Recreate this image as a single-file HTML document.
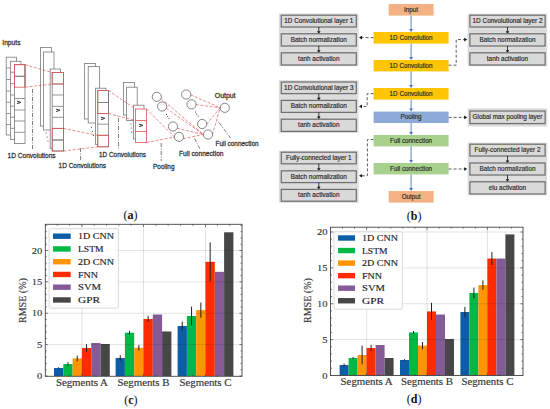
<!DOCTYPE html>
<html><head><meta charset="utf-8"><style>
html,body{margin:0;padding:0;background:#fff;}
body{width:550px;height:409px;overflow:hidden;}
svg{display:block;}
</style></head><body>
<svg width="550" height="409" viewBox="0 0 550 409">
<rect width="550" height="409" fill="#fff"/>
<rect x="6.2" y="57.2" width="10.30" height="77.80" fill="#fff" stroke="#7a7a7a" stroke-width="0.8"/>
<line x1="6.2" y1="68" x2="10.5" y2="68" stroke="#7a7a7a" stroke-width="0.8"/>
<line x1="6.2" y1="79.5" x2="10.5" y2="79.5" stroke="#7a7a7a" stroke-width="0.8"/>
<line x1="6.2" y1="91" x2="10.5" y2="91" stroke="#7a7a7a" stroke-width="0.8"/>
<line x1="6.2" y1="102.2" x2="10.5" y2="102.2" stroke="#7a7a7a" stroke-width="0.8"/>
<line x1="6.2" y1="113.5" x2="10.5" y2="113.5" stroke="#7a7a7a" stroke-width="0.8"/>
<line x1="6.2" y1="124.5" x2="10.5" y2="124.5" stroke="#7a7a7a" stroke-width="0.8"/>
<rect x="10.5" y="61.3" width="10.50" height="78.10" fill="#fff" stroke="#7a7a7a" stroke-width="0.8"/>
<line x1="10.5" y1="72.2" x2="14.5" y2="72.2" stroke="#7a7a7a" stroke-width="0.8"/>
<line x1="10.5" y1="83.7" x2="14.5" y2="83.7" stroke="#7a7a7a" stroke-width="0.8"/>
<line x1="10.5" y1="95" x2="14.5" y2="95" stroke="#7a7a7a" stroke-width="0.8"/>
<line x1="10.5" y1="106.2" x2="14.5" y2="106.2" stroke="#7a7a7a" stroke-width="0.8"/>
<line x1="10.5" y1="117.2" x2="14.5" y2="117.2" stroke="#7a7a7a" stroke-width="0.8"/>
<line x1="10.5" y1="128.3" x2="14.5" y2="128.3" stroke="#7a7a7a" stroke-width="0.8"/>
<rect x="14.5" y="64.7" width="10.50" height="78.90" fill="#fff" stroke="#7a7a7a" stroke-width="0.8"/>
<line x1="14.5" y1="76.3" x2="25" y2="76.3" stroke="#7a7a7a" stroke-width="0.8"/>
<line x1="14.5" y1="98.5" x2="25" y2="98.5" stroke="#7a7a7a" stroke-width="0.8"/>
<line x1="14.5" y1="110" x2="25" y2="110" stroke="#7a7a7a" stroke-width="0.8"/>
<line x1="14.5" y1="121" x2="25" y2="121" stroke="#7a7a7a" stroke-width="0.8"/>
<line x1="14.5" y1="132.3" x2="25" y2="132.3" stroke="#7a7a7a" stroke-width="0.8"/>
<rect x="14.5" y="64.7" width="10.50" height="22.50" fill="none" stroke="#dc5555" stroke-width="0.8"/>
<line x1="14.5" y1="76.3" x2="25" y2="76.3" stroke="#7a7a7a" stroke-width="0.8"/>
<line x1="25" y1="65" x2="25" y2="87" stroke="#7a7a7a" stroke-width="0.8"/>
<rect x="40.5" y="47.5" width="11.00" height="78.50" fill="#fff" stroke="#7a7a7a" stroke-width="0.8"/>
<rect x="43.5" y="52" width="10.50" height="78.00" fill="#fff" stroke="#7a7a7a" stroke-width="0.8"/>
<rect x="50.2" y="69" width="10.30" height="79.50" fill="#fff" stroke="#7a7a7a" stroke-width="0.8"/>
<rect x="52.2" y="72.5" width="11.30" height="78.50" fill="#fff" stroke="#7a7a7a" stroke-width="0.8"/>
<line x1="52.2" y1="84" x2="63.5" y2="84" stroke="#7a7a7a" stroke-width="0.8"/>
<line x1="52.2" y1="95" x2="63.5" y2="95" stroke="#7a7a7a" stroke-width="0.8"/>
<line x1="52.2" y1="106.3" x2="63.5" y2="106.3" stroke="#7a7a7a" stroke-width="0.8"/>
<line x1="52.2" y1="117.3" x2="63.5" y2="117.3" stroke="#7a7a7a" stroke-width="0.8"/>
<line x1="52.2" y1="128.4" x2="63.5" y2="128.4" stroke="#7a7a7a" stroke-width="0.8"/>
<line x1="52.2" y1="140" x2="63.5" y2="140" stroke="#7a7a7a" stroke-width="0.8"/>
<rect x="52.2" y="72.5" width="11.30" height="11.50" fill="none" stroke="#dc5555" stroke-width="0.8"/>
<rect x="52.2" y="128.4" width="11.30" height="22.60" fill="none" stroke="#dc5555" stroke-width="0.8"/>
<line x1="52.2" y1="140" x2="63.5" y2="140" stroke="#7a7a7a" stroke-width="0.8"/>
<rect x="84.5" y="63.5" width="11.00" height="55.50" fill="#fff" stroke="#7a7a7a" stroke-width="0.8"/>
<rect x="88.2" y="66.5" width="11.30" height="56.50" fill="#fff" stroke="#7a7a7a" stroke-width="0.8"/>
<rect x="95.5" y="88.2" width="10.50" height="56.30" fill="#fff" stroke="#7a7a7a" stroke-width="0.8"/>
<rect x="97.8" y="90.5" width="10.70" height="56.30" fill="#fff" stroke="#7a7a7a" stroke-width="0.8"/>
<line x1="97.8" y1="102.5" x2="108.5" y2="102.5" stroke="#7a7a7a" stroke-width="0.8"/>
<line x1="97.8" y1="113.5" x2="108.5" y2="113.5" stroke="#7a7a7a" stroke-width="0.8"/>
<line x1="97.8" y1="124.2" x2="108.5" y2="124.2" stroke="#7a7a7a" stroke-width="0.8"/>
<line x1="97.8" y1="135.3" x2="108.5" y2="135.3" stroke="#7a7a7a" stroke-width="0.8"/>
<rect x="97.8" y="90.5" width="10.70" height="23.00" fill="none" stroke="#dc5555" stroke-width="0.8"/>
<line x1="97.8" y1="102.5" x2="108.5" y2="102.5" stroke="#7a7a7a" stroke-width="0.8"/>
<rect x="97.8" y="135.3" width="10.70" height="11.50" fill="none" stroke="#dc5555" stroke-width="0.8"/>
<line x1="108.5" y1="90.8" x2="108.5" y2="113.2" stroke="#7a7a7a" stroke-width="0.8"/>
<rect x="123.5" y="82.5" width="11.00" height="32.50" fill="#fff" stroke="#7a7a7a" stroke-width="0.8"/>
<rect x="126.5" y="87.2" width="10.70" height="33.30" fill="#fff" stroke="#7a7a7a" stroke-width="0.8"/>
<rect x="133.5" y="105.2" width="10.50" height="33.80" fill="#fff" stroke="#7a7a7a" stroke-width="0.8"/>
<rect x="135.5" y="109" width="11.00" height="33.50" fill="#fff" stroke="#dc5555" stroke-width="0.8"/>
<line x1="135.5" y1="120.5" x2="146.5" y2="120.5" stroke="#dc5555" stroke-width="0.8"/>
<line x1="135.5" y1="131.5" x2="146.5" y2="131.5" stroke="#dc5555" stroke-width="0.8"/>
<path d="M17,101.2 L20.9,102.4 L17,103.60000000000001" fill="none" stroke="#333" stroke-width="1" stroke-linejoin="round"/>
<path d="M56.1,109.1 L60.0,110.3 L56.1,111.5" fill="none" stroke="#333" stroke-width="1" stroke-linejoin="round"/>
<path d="M101,117.2 L104.9,118.4 L101,119.60000000000001" fill="none" stroke="#333" stroke-width="1" stroke-linejoin="round"/>
<path d="M139.1,124.2 L143.0,125.4 L139.1,126.60000000000001" fill="none" stroke="#333" stroke-width="1" stroke-linejoin="round"/>
<circle cx="46" cy="133" r="0.6" fill="#333"/>
<circle cx="47" cy="137" r="0.6" fill="#333"/>
<circle cx="48" cy="141" r="0.6" fill="#333"/>
<circle cx="91.5" cy="127.5" r="0.6" fill="#333"/>
<circle cx="92.5" cy="131.5" r="0.6" fill="#333"/>
<circle cx="93.5" cy="135.5" r="0.6" fill="#333"/>
<circle cx="131" cy="124" r="0.6" fill="#333"/>
<circle cx="131.3" cy="128" r="0.6" fill="#333"/>
<circle cx="131.6" cy="132" r="0.6" fill="#333"/>
<line x1="25" y1="64.7" x2="52.2" y2="72.5" stroke="#dd4040" stroke-width="0.75" stroke-dasharray="3,1.6" fill="none" opacity="0.8"/>
<line x1="25" y1="87.2" x2="52.2" y2="84" stroke="#dd4040" stroke-width="0.75" stroke-dasharray="3,1.6" fill="none" opacity="0.8"/>
<line x1="63.5" y1="128.4" x2="97.8" y2="135.3" stroke="#dd4040" stroke-width="0.75" stroke-dasharray="3,1.6" fill="none" opacity="0.8"/>
<line x1="63.5" y1="151" x2="97.8" y2="146.8" stroke="#dd4040" stroke-width="0.75" stroke-dasharray="3,1.6" fill="none" opacity="0.8"/>
<line x1="108.5" y1="90.5" x2="135.5" y2="109" stroke="#dd4040" stroke-width="0.75" stroke-dasharray="3,1.6" fill="none" opacity="0.8"/>
<line x1="108.5" y1="113.5" x2="135.5" y2="120.5" stroke="#dd4040" stroke-width="0.75" stroke-dasharray="3,1.6" fill="none" opacity="0.8"/>
<line x1="146.5" y1="109" x2="174.5" y2="137" stroke="#dd4040" stroke-width="0.75" stroke-dasharray="3,1.6" fill="none" opacity="0.8"/>
<line x1="146.5" y1="142.5" x2="174.5" y2="137" stroke="#dd4040" stroke-width="0.75" stroke-dasharray="3,1.6" fill="none" opacity="0.8"/>
<line x1="160.94" y1="98.64" x2="203.4" y2="134.5" stroke="#dd4040" stroke-width="0.75" stroke-dasharray="3,1.6" fill="none" opacity="0.8"/>
<line x1="166.33999999999997" y1="108.34" x2="203.4" y2="134.5" stroke="#dd4040" stroke-width="0.75" stroke-dasharray="3,1.6" fill="none" opacity="0.8"/>
<line x1="177.14" y1="128.34" x2="203.4" y2="134.5" stroke="#dd4040" stroke-width="0.75" stroke-dasharray="3,1.6" fill="none" opacity="0.8"/>
<line x1="183.14" y1="138.64000000000001" x2="203.4" y2="134.5" stroke="#dd4040" stroke-width="0.75" stroke-dasharray="3,1.6" fill="none" opacity="0.8"/>
<line x1="190.57" y1="94.8" x2="220.20000000000002" y2="107.8" stroke="#dd4040" stroke-width="0.75" stroke-dasharray="3,1.6" fill="none" opacity="0.8"/>
<line x1="195.87" y1="104.6" x2="220.20000000000002" y2="107.8" stroke="#dd4040" stroke-width="0.75" stroke-dasharray="3,1.6" fill="none" opacity="0.8"/>
<line x1="206.57" y1="124.3" x2="220.20000000000002" y2="107.8" stroke="#dd4040" stroke-width="0.75" stroke-dasharray="3,1.6" fill="none" opacity="0.8"/>
<line x1="212.37" y1="134.8" x2="220.20000000000002" y2="107.8" stroke="#dd4040" stroke-width="0.75" stroke-dasharray="3,1.6" fill="none" opacity="0.8"/>
<circle cx="156.8" cy="96.8" r="4.6" fill="none" stroke="#666" stroke-width="0.8"/>
<circle cx="162.2" cy="106.5" r="4.6" fill="none" stroke="#666" stroke-width="0.8"/>
<circle cx="173" cy="126.5" r="4.6" fill="none" stroke="#666" stroke-width="0.8"/>
<circle cx="179" cy="136.8" r="4.6" fill="none" stroke="#666" stroke-width="0.8"/>
<circle cx="186.2" cy="94.5" r="4.6" fill="none" stroke="#666" stroke-width="0.8"/>
<circle cx="191.5" cy="104.3" r="4.6" fill="none" stroke="#666" stroke-width="0.8"/>
<circle cx="202.2" cy="124" r="4.6" fill="none" stroke="#666" stroke-width="0.8"/>
<circle cx="208" cy="134.5" r="4.6" fill="none" stroke="#666" stroke-width="0.8"/>
<circle cx="224.8" cy="107.8" r="4.6" fill="none" stroke="#666" stroke-width="0.8"/>
<circle cx="166.5" cy="114.5" r="0.55" fill="#333"/>
<circle cx="167.7" cy="116.5" r="0.55" fill="#333"/>
<circle cx="169" cy="118.5" r="0.55" fill="#333"/>
<circle cx="195.5" cy="112" r="0.55" fill="#333"/>
<circle cx="196.8" cy="114" r="0.55" fill="#333"/>
<circle cx="198.2" cy="116" r="0.55" fill="#333"/>
<line x1="32.5" y1="89" x2="32.5" y2="150" stroke="#444" stroke-width="0.7" stroke-dasharray="4,1.5,1,1.5" fill="none"/>
<line x1="80.6" y1="148" x2="80.6" y2="161" stroke="#444" stroke-width="0.7" stroke-dasharray="4,1.5,1,1.5" fill="none"/>
<line x1="118.5" y1="118" x2="118.5" y2="150" stroke="#444" stroke-width="0.7" stroke-dasharray="4,1.5,1,1.5" fill="none"/>
<line x1="161.2" y1="143" x2="161.2" y2="161" stroke="#444" stroke-width="0.7" stroke-dasharray="4,1.5,1,1.5" fill="none"/>
<line x1="194.5" y1="138.5" x2="199.7" y2="148.6" stroke="#444" stroke-width="0.7" stroke-dasharray="4,1.5,1,1.5" fill="none"/>
<line x1="219" y1="122.5" x2="230.5" y2="138" stroke="#444" stroke-width="0.7" stroke-dasharray="4,1.5,1,1.5" fill="none"/>
<text x="2.3" y="45.3" font-family='"Liberation Sans", sans-serif' font-size="6.9" text-anchor="start" fill="#333" font-weight="normal" textLength="18.2" lengthAdjust="spacingAndGlyphs" stroke="#333" stroke-width="0.26">Inputs</text>
<text x="7.6" y="157.6" font-family='"Liberation Sans", sans-serif' font-size="6.9" text-anchor="start" fill="#333" font-weight="normal" textLength="48" lengthAdjust="spacingAndGlyphs" stroke="#333" stroke-width="0.26">1D Convolutions</text>
<text x="58.6" y="168.2" font-family='"Liberation Sans", sans-serif' font-size="6.9" text-anchor="start" fill="#333" font-weight="normal" textLength="47.4" lengthAdjust="spacingAndGlyphs" stroke="#333" stroke-width="0.26">1D Convolutions</text>
<text x="99" y="157.2" font-family='"Liberation Sans", sans-serif' font-size="6.9" text-anchor="start" fill="#333" font-weight="normal" textLength="47" lengthAdjust="spacingAndGlyphs" stroke="#333" stroke-width="0.26">1D Convolutions</text>
<text x="153" y="169" font-family='"Liberation Sans", sans-serif' font-size="6.9" text-anchor="start" fill="#333" font-weight="normal" textLength="21.5" lengthAdjust="spacingAndGlyphs" stroke="#333" stroke-width="0.26">Pooling</text>
<text x="179" y="156" font-family='"Liberation Sans", sans-serif' font-size="6.9" text-anchor="start" fill="#333" font-weight="normal" textLength="44.5" lengthAdjust="spacingAndGlyphs" stroke="#333" stroke-width="0.26">Full connection</text>
<text x="215.5" y="145.7" font-family='"Liberation Sans", sans-serif' font-size="6.9" text-anchor="start" fill="#333" font-weight="normal" textLength="43" lengthAdjust="spacingAndGlyphs" stroke="#333" stroke-width="0.26">Full connection</text>
<text x="214.8" y="97.8" font-family='"Liberation Sans", sans-serif' font-size="6.9" text-anchor="start" fill="#333" font-weight="normal" textLength="20.7" lengthAdjust="spacingAndGlyphs" stroke="#333" stroke-width="0.26">Output</text>
<rect x="278.8" y="13.5" width="79.8" height="52.7" fill="#dddddd"/>
<rect x="281.3" y="15.2" width="75.0" height="11.8" fill="#d9d9d9" stroke="#707070" stroke-width="1.25"/>
<text x="318.8" y="23.0" font-family='"Liberation Sans", sans-serif' font-size="6.7" text-anchor="middle" fill="#2a2a2a" font-weight="normal" textLength="69" lengthAdjust="spacingAndGlyphs" stroke="#2a2a2a" stroke-width="0.18">1D Convolutional layer 1</text>
<line x1="318.8" y1="27" x2="318.8" y2="31.599999999999998" stroke="#111" stroke-width="0.8"/>
<path d="M317.0,31.199999999999996 L320.6,31.199999999999996 L318.8,33.8 Z" fill="#111"/>
<rect x="281.3" y="33.8" width="75.0" height="12.2" fill="#d9d9d9" stroke="#707070" stroke-width="1.25"/>
<text x="318.8" y="41.8" font-family='"Liberation Sans", sans-serif' font-size="6.7" text-anchor="middle" fill="#2a2a2a" font-weight="normal" textLength="56" lengthAdjust="spacingAndGlyphs" stroke="#2a2a2a" stroke-width="0.18">Batch normalization</text>
<line x1="318.8" y1="46" x2="318.8" y2="50.599999999999994" stroke="#111" stroke-width="0.8"/>
<path d="M317.0,50.199999999999996 L320.6,50.199999999999996 L318.8,52.8 Z" fill="#111"/>
<rect x="281.3" y="52.8" width="75.0" height="12.2" fill="#d9d9d9" stroke="#707070" stroke-width="1.25"/>
<text x="318.8" y="60.8" font-family='"Liberation Sans", sans-serif' font-size="6.7" text-anchor="middle" fill="#2a2a2a" font-weight="normal" textLength="41.4" lengthAdjust="spacingAndGlyphs" stroke="#2a2a2a" stroke-width="0.18">tanh activation</text>
<rect x="278.8" y="80.2" width="79.8" height="52.8" fill="#dddddd"/>
<rect x="281.3" y="82" width="75.0" height="11.6" fill="#d9d9d9" stroke="#707070" stroke-width="1.25"/>
<text x="318.8" y="89.7" font-family='"Liberation Sans", sans-serif' font-size="6.7" text-anchor="middle" fill="#2a2a2a" font-weight="normal" textLength="69.4" lengthAdjust="spacingAndGlyphs" stroke="#2a2a2a" stroke-width="0.18">1D Convolutional layer 3</text>
<line x1="318.8" y1="93.6" x2="318.8" y2="98.2" stroke="#111" stroke-width="0.8"/>
<path d="M317.0,97.80000000000001 L320.6,97.80000000000001 L318.8,100.4 Z" fill="#111"/>
<rect x="281.3" y="100.4" width="75.0" height="12.0" fill="#d9d9d9" stroke="#707070" stroke-width="1.25"/>
<text x="318.8" y="108.30000000000001" font-family='"Liberation Sans", sans-serif' font-size="6.7" text-anchor="middle" fill="#2a2a2a" font-weight="normal" textLength="56" lengthAdjust="spacingAndGlyphs" stroke="#2a2a2a" stroke-width="0.18">Batch normalization</text>
<line x1="318.8" y1="112.4" x2="318.8" y2="117.0" stroke="#111" stroke-width="0.8"/>
<path d="M317.0,116.60000000000001 L320.6,116.60000000000001 L318.8,119.2 Z" fill="#111"/>
<rect x="281.3" y="119.2" width="75.0" height="12.2" fill="#d9d9d9" stroke="#707070" stroke-width="1.25"/>
<text x="318.8" y="127.20000000000002" font-family='"Liberation Sans", sans-serif' font-size="6.7" text-anchor="middle" fill="#2a2a2a" font-weight="normal" textLength="41.4" lengthAdjust="spacingAndGlyphs" stroke="#2a2a2a" stroke-width="0.18">tanh activation</text>
<rect x="278.8" y="150.6" width="79.8" height="52.2" fill="#dddddd"/>
<rect x="281.3" y="152.2" width="75.0" height="11.6" fill="#d9d9d9" stroke="#707070" stroke-width="1.25"/>
<text x="318.8" y="159.9" font-family='"Liberation Sans", sans-serif' font-size="6.7" text-anchor="middle" fill="#2a2a2a" font-weight="normal" textLength="65.6" lengthAdjust="spacingAndGlyphs" stroke="#2a2a2a" stroke-width="0.18">Fully-connected layer 1</text>
<line x1="318.8" y1="163.8" x2="318.8" y2="168.60000000000002" stroke="#111" stroke-width="0.8"/>
<path d="M317.0,168.20000000000002 L320.6,168.20000000000002 L318.8,170.8 Z" fill="#111"/>
<rect x="281.3" y="170.8" width="75.0" height="11.8" fill="#d9d9d9" stroke="#707070" stroke-width="1.25"/>
<text x="318.8" y="178.6" font-family='"Liberation Sans", sans-serif' font-size="6.7" text-anchor="middle" fill="#2a2a2a" font-weight="normal" textLength="56" lengthAdjust="spacingAndGlyphs" stroke="#2a2a2a" stroke-width="0.18">Batch normalization</text>
<line x1="318.8" y1="182.6" x2="318.8" y2="187.20000000000002" stroke="#111" stroke-width="0.8"/>
<path d="M317.0,186.8 L320.6,186.8 L318.8,189.4 Z" fill="#111"/>
<rect x="281.3" y="189.4" width="75.0" height="11.8" fill="#d9d9d9" stroke="#707070" stroke-width="1.25"/>
<text x="318.8" y="197.20000000000002" font-family='"Liberation Sans", sans-serif' font-size="6.7" text-anchor="middle" fill="#2a2a2a" font-weight="normal" textLength="41.4" lengthAdjust="spacingAndGlyphs" stroke="#2a2a2a" stroke-width="0.18">tanh activation</text>
<rect x="467.6" y="13.6" width="79.6" height="52.6" fill="#dddddd"/>
<rect x="469.90000000000003" y="15.2" width="75.2" height="11.8" fill="#d9d9d9" stroke="#707070" stroke-width="1.25"/>
<text x="507.5" y="23.0" font-family='"Liberation Sans", sans-serif' font-size="6.7" text-anchor="middle" fill="#2a2a2a" font-weight="normal" textLength="70" lengthAdjust="spacingAndGlyphs" stroke="#2a2a2a" stroke-width="0.18">1D Convolutional layer 2</text>
<line x1="507.5" y1="27" x2="507.5" y2="31.599999999999998" stroke="#111" stroke-width="0.8"/>
<path d="M505.7,31.199999999999996 L509.3,31.199999999999996 L507.5,33.8 Z" fill="#111"/>
<rect x="469.90000000000003" y="33.8" width="75.2" height="12.2" fill="#d9d9d9" stroke="#707070" stroke-width="1.25"/>
<text x="507.5" y="41.8" font-family='"Liberation Sans", sans-serif' font-size="6.7" text-anchor="middle" fill="#2a2a2a" font-weight="normal" textLength="56" lengthAdjust="spacingAndGlyphs" stroke="#2a2a2a" stroke-width="0.18">Batch normalization</text>
<line x1="507.5" y1="46" x2="507.5" y2="50.599999999999994" stroke="#111" stroke-width="0.8"/>
<path d="M505.7,50.199999999999996 L509.3,50.199999999999996 L507.5,52.8 Z" fill="#111"/>
<rect x="469.90000000000003" y="52.8" width="75.2" height="12.2" fill="#d9d9d9" stroke="#707070" stroke-width="1.25"/>
<text x="507.5" y="60.8" font-family='"Liberation Sans", sans-serif' font-size="6.7" text-anchor="middle" fill="#2a2a2a" font-weight="normal" textLength="41.4" lengthAdjust="spacingAndGlyphs" stroke="#2a2a2a" stroke-width="0.18">tanh activation</text>
<rect x="467.6" y="108.2" width="79.6" height="18.4" fill="#dddddd"/>
<rect x="469.90000000000003" y="111" width="75.2" height="12.6" fill="#d9d9d9" stroke="#707070" stroke-width="1.25"/>
<text x="507.5" y="119.2" font-family='"Liberation Sans", sans-serif' font-size="6.7" text-anchor="middle" fill="#2a2a2a" font-weight="normal" textLength="69.8" lengthAdjust="spacingAndGlyphs" stroke="#2a2a2a" stroke-width="0.18">Global max pooling layer</text>
<rect x="467.6" y="142.6" width="79.6" height="52.6" fill="#dddddd"/>
<rect x="469.90000000000003" y="144.2" width="75.2" height="11.8" fill="#d9d9d9" stroke="#707070" stroke-width="1.25"/>
<text x="507.5" y="152.0" font-family='"Liberation Sans", sans-serif' font-size="6.7" text-anchor="middle" fill="#2a2a2a" font-weight="normal" textLength="66" lengthAdjust="spacingAndGlyphs" stroke="#2a2a2a" stroke-width="0.18">Fully-connected layer 2</text>
<line x1="507.5" y1="156" x2="507.5" y2="160.8" stroke="#111" stroke-width="0.8"/>
<path d="M505.7,160.4 L509.3,160.4 L507.5,163 Z" fill="#111"/>
<rect x="469.90000000000003" y="163" width="75.2" height="12.0" fill="#d9d9d9" stroke="#707070" stroke-width="1.25"/>
<text x="507.5" y="170.9" font-family='"Liberation Sans", sans-serif' font-size="6.7" text-anchor="middle" fill="#2a2a2a" font-weight="normal" textLength="56" lengthAdjust="spacingAndGlyphs" stroke="#2a2a2a" stroke-width="0.18">Batch normalization</text>
<line x1="507.5" y1="175" x2="507.5" y2="179.60000000000002" stroke="#111" stroke-width="0.8"/>
<path d="M505.7,179.20000000000002 L509.3,179.20000000000002 L507.5,181.8 Z" fill="#111"/>
<rect x="469.90000000000003" y="181.8" width="75.2" height="12.2" fill="#d9d9d9" stroke="#707070" stroke-width="1.25"/>
<text x="507.5" y="189.8" font-family='"Liberation Sans", sans-serif' font-size="6.7" text-anchor="middle" fill="#2a2a2a" font-weight="normal" textLength="37.4" lengthAdjust="spacingAndGlyphs" stroke="#2a2a2a" stroke-width="0.18">elu activation</text>
<rect x="388.6" y="4" width="45.0" height="11.6" fill="#f4b183"/>
<text x="411.1" y="11.700000000000001" font-family='"Liberation Sans", sans-serif' font-size="6.7" text-anchor="middle" fill="#2a2a2a" font-weight="normal" textLength="14" lengthAdjust="spacingAndGlyphs" stroke="#2a2a2a" stroke-width="0.18">Input</text>
<line x1="411.1" y1="15.6" x2="411.1" y2="29.5" stroke="#4a78c0" stroke-width="0.9"/>
<path d="M409.1,29 L413.1,29 L411.1,32 Z" fill="#4a78c0"/>
<rect x="373.6" y="32" width="75.0" height="11.6" fill="#ffc505"/>
<text x="411.1" y="39.699999999999996" font-family='"Liberation Sans", sans-serif' font-size="6.7" text-anchor="middle" fill="#2a2a2a" font-weight="normal" textLength="43" lengthAdjust="spacingAndGlyphs" stroke="#2a2a2a" stroke-width="0.18">1D Convolution</text>
<line x1="411.1" y1="43.6" x2="411.1" y2="57.5" stroke="#4a78c0" stroke-width="0.9"/>
<path d="M409.1,57 L413.1,57 L411.1,60 Z" fill="#4a78c0"/>
<rect x="373.6" y="60" width="75.0" height="11.4" fill="#ffc505"/>
<text x="411.1" y="67.60000000000001" font-family='"Liberation Sans", sans-serif' font-size="6.7" text-anchor="middle" fill="#2a2a2a" font-weight="normal" textLength="43" lengthAdjust="spacingAndGlyphs" stroke="#2a2a2a" stroke-width="0.18">1D Convolution</text>
<line x1="411.1" y1="71.4" x2="411.1" y2="85.5" stroke="#4a78c0" stroke-width="0.9"/>
<path d="M409.1,85 L413.1,85 L411.1,88 Z" fill="#4a78c0"/>
<rect x="373.6" y="88" width="75.0" height="11.6" fill="#ffc505"/>
<text x="411.1" y="95.7" font-family='"Liberation Sans", sans-serif' font-size="6.7" text-anchor="middle" fill="#2a2a2a" font-weight="normal" textLength="43" lengthAdjust="spacingAndGlyphs" stroke="#2a2a2a" stroke-width="0.18">1D Convolution</text>
<line x1="411.1" y1="99.6" x2="411.1" y2="109.1" stroke="#4a78c0" stroke-width="0.9"/>
<path d="M409.1,108.6 L413.1,108.6 L411.1,111.6 Z" fill="#4a78c0"/>
<rect x="373.6" y="111.6" width="75.0" height="11.4" fill="#8eaadb"/>
<text x="411.1" y="119.2" font-family='"Liberation Sans", sans-serif' font-size="6.7" text-anchor="middle" fill="#2a2a2a" font-weight="normal" textLength="21" lengthAdjust="spacingAndGlyphs" stroke="#2a2a2a" stroke-width="0.18">Pooling</text>
<line x1="411.1" y1="123" x2="411.1" y2="132.5" stroke="#4a78c0" stroke-width="0.9"/>
<path d="M409.1,132 L413.1,132 L411.1,135 Z" fill="#4a78c0"/>
<rect x="373.6" y="135" width="75.0" height="11.4" fill="#a9d18e"/>
<text x="411.1" y="142.6" font-family='"Liberation Sans", sans-serif' font-size="6.7" text-anchor="middle" fill="#2a2a2a" font-weight="normal" textLength="42" lengthAdjust="spacingAndGlyphs" stroke="#2a2a2a" stroke-width="0.18">Full connection</text>
<line x1="411.1" y1="146.4" x2="411.1" y2="160.5" stroke="#4a78c0" stroke-width="0.9"/>
<path d="M409.1,160 L413.1,160 L411.1,163 Z" fill="#4a78c0"/>
<rect x="373.6" y="163" width="75.0" height="11.4" fill="#a9d18e"/>
<text x="411.1" y="170.6" font-family='"Liberation Sans", sans-serif' font-size="6.7" text-anchor="middle" fill="#2a2a2a" font-weight="normal" textLength="42" lengthAdjust="spacingAndGlyphs" stroke="#2a2a2a" stroke-width="0.18">Full connection</text>
<line x1="411.1" y1="174.4" x2="411.1" y2="188.5" stroke="#4a78c0" stroke-width="0.9"/>
<path d="M409.1,188 L413.1,188 L411.1,191 Z" fill="#4a78c0"/>
<rect x="388.6" y="191" width="45.0" height="11.6" fill="#f4b183"/>
<text x="411.1" y="198.70000000000002" font-family='"Liberation Sans", sans-serif' font-size="6.7" text-anchor="middle" fill="#2a2a2a" font-weight="normal" textLength="18.8" lengthAdjust="spacingAndGlyphs" stroke="#2a2a2a" stroke-width="0.18">Output</text>
<path d="M373.6,37.6 L361.6,37.6" stroke="#4a4a4a" stroke-width="0.9" fill="none" stroke-dasharray="3,2"/>
<path d="M359.0,37.6 L362.0,35.800000000000004 L362.0,39.4 Z" fill="#111"/>
<path d="M448.6,65.2 L456.2,65.2 L456.2,39.6 L464.6,39.6" stroke="#4a4a4a" stroke-width="0.9" fill="none" stroke-dasharray="3,2"/>
<path d="M467.20000000000005,39.6 L464.20000000000005,37.800000000000004 L464.20000000000005,41.4 Z" fill="#111"/>
<path d="M373.6,93.6 L367.2,93.6 L367.2,106.4 L361.6,106.4" stroke="#4a4a4a" stroke-width="0.9" fill="none" stroke-dasharray="3,2"/>
<path d="M359.0,106.4 L362.0,104.60000000000001 L362.0,108.2 Z" fill="#111"/>
<path d="M448.6,117.4 L464.6,117.4" stroke="#4a4a4a" stroke-width="0.9" fill="none" stroke-dasharray="3,2"/>
<path d="M467.20000000000005,117.4 L464.20000000000005,115.60000000000001 L464.20000000000005,119.2 Z" fill="#111"/>
<path d="M373.6,139.6 L367.4,139.6 L367.4,175.8 L361.6,175.8" stroke="#4a4a4a" stroke-width="0.9" fill="none" stroke-dasharray="3,2"/>
<path d="M359.0,175.8 L362.0,174.0 L362.0,177.60000000000002 Z" fill="#111"/>
<path d="M448.6,169 L464.6,169" stroke="#4a4a4a" stroke-width="0.9" fill="none" stroke-dasharray="3,2"/>
<path d="M467.20000000000005,169 L464.20000000000005,167.2 L464.20000000000005,170.8 Z" fill="#111"/>
<rect x="54.00" y="368.03" width="9.30" height="7.97" fill="#0C5DA5"/>
<rect x="63.30" y="364.08" width="9.30" height="11.92" fill="#00B945"/>
<rect x="72.60" y="358.43" width="9.30" height="17.57" fill="#FF9500"/>
<rect x="81.90" y="348.01" width="9.30" height="27.99" fill="#FF2C00"/>
<rect x="91.20" y="342.99" width="9.30" height="33.01" fill="#845B97"/>
<rect x="100.50" y="344.00" width="9.30" height="32.00" fill="#474747"/>
<rect x="115.60" y="357.99" width="9.30" height="18.01" fill="#0C5DA5"/>
<rect x="124.90" y="332.70" width="9.30" height="43.30" fill="#00B945"/>
<rect x="134.20" y="347.76" width="9.30" height="28.24" fill="#FF9500"/>
<rect x="143.50" y="318.90" width="9.30" height="57.10" fill="#FF2C00"/>
<rect x="152.80" y="314.50" width="9.30" height="61.50" fill="#845B97"/>
<rect x="162.10" y="331.45" width="9.30" height="44.55" fill="#474747"/>
<rect x="177.60" y="325.99" width="9.30" height="50.01" fill="#0C5DA5"/>
<rect x="186.90" y="316.01" width="9.30" height="59.99" fill="#00B945"/>
<rect x="196.20" y="310.11" width="9.30" height="65.89" fill="#FF9500"/>
<rect x="205.50" y="261.80" width="9.30" height="114.20" fill="#FF2C00"/>
<rect x="214.80" y="271.83" width="9.30" height="104.17" fill="#845B97"/>
<rect x="224.10" y="232.30" width="9.30" height="143.70" fill="#474747"/>
<line x1="58.65" y1="367.28" x2="58.65" y2="368.78" stroke="#222" stroke-width="1"/>
<line x1="67.95" y1="362.19" x2="67.95" y2="365.96" stroke="#222" stroke-width="1"/>
<line x1="77.25" y1="355.61" x2="77.25" y2="361.25" stroke="#222" stroke-width="1"/>
<line x1="86.55" y1="344.25" x2="86.55" y2="351.78" stroke="#222" stroke-width="1"/>
<line x1="120.25" y1="355.17" x2="120.25" y2="360.81" stroke="#222" stroke-width="1"/>
<line x1="129.55" y1="330.82" x2="129.55" y2="334.58" stroke="#222" stroke-width="1"/>
<line x1="138.85" y1="344.94" x2="138.85" y2="350.59" stroke="#222" stroke-width="1"/>
<line x1="148.15" y1="315.76" x2="148.15" y2="322.03" stroke="#222" stroke-width="1"/>
<line x1="182.25" y1="321.60" x2="182.25" y2="330.38" stroke="#222" stroke-width="1"/>
<line x1="191.55" y1="306.60" x2="191.55" y2="325.42" stroke="#222" stroke-width="1"/>
<line x1="200.85" y1="302.58" x2="200.85" y2="317.64" stroke="#222" stroke-width="1"/>
<line x1="210.15" y1="242.34" x2="210.15" y2="281.25" stroke="#222" stroke-width="1"/>
<line x1="45.3" y1="344.62" x2="242" y2="344.62" stroke="#000" stroke-opacity="0.16" stroke-width="0.7"/>
<line x1="45.3" y1="313.25" x2="242" y2="313.25" stroke="#000" stroke-opacity="0.16" stroke-width="0.7"/>
<line x1="45.3" y1="281.88" x2="242" y2="281.88" stroke="#000" stroke-opacity="0.16" stroke-width="0.7"/>
<line x1="45.3" y1="250.50" x2="242" y2="250.50" stroke="#000" stroke-opacity="0.16" stroke-width="0.7"/>
<line x1="81.9" y1="224.3" x2="81.9" y2="376.3" stroke="#000" stroke-opacity="0.16" stroke-width="0.7"/>
<line x1="143.5" y1="224.3" x2="143.5" y2="376.3" stroke="#000" stroke-opacity="0.16" stroke-width="0.7"/>
<line x1="205.5" y1="224.3" x2="205.5" y2="376.3" stroke="#000" stroke-opacity="0.16" stroke-width="0.7"/>
<rect x="49.1" y="228.7" width="69.30000000000001" height="79.5" rx="1.5" fill="#fff" fill-opacity="0.85" stroke="#d0d0d0" stroke-width="0.8"/>
<rect x="53" y="233.50" width="17.700000000000003" height="5.4" fill="#0C5DA5"/>
<text x="78" y="239.4" font-family='"Liberation Serif", serif' font-size="9.2" text-anchor="start" fill="#222" font-weight="normal" textLength="36" lengthAdjust="spacingAndGlyphs" stroke="#222" stroke-width="0.15">1D CNN</text>
<rect x="53" y="246.25" width="17.700000000000003" height="5.4" fill="#00B945"/>
<text x="78" y="252.15" font-family='"Liberation Serif", serif' font-size="9.2" text-anchor="start" fill="#222" font-weight="normal" textLength="25.6" lengthAdjust="spacingAndGlyphs" stroke="#222" stroke-width="0.15">LSTM</text>
<rect x="53" y="259.00" width="17.700000000000003" height="5.4" fill="#FF9500"/>
<text x="78" y="264.9" font-family='"Liberation Serif", serif' font-size="9.2" text-anchor="start" fill="#222" font-weight="normal" textLength="36" lengthAdjust="spacingAndGlyphs" stroke="#222" stroke-width="0.15">2D CNN</text>
<rect x="53" y="271.75" width="17.700000000000003" height="5.4" fill="#FF2C00"/>
<text x="78" y="277.65" font-family='"Liberation Serif", serif' font-size="9.2" text-anchor="start" fill="#222" font-weight="normal" textLength="20" lengthAdjust="spacingAndGlyphs" stroke="#222" stroke-width="0.15">FNN</text>
<rect x="53" y="284.50" width="17.700000000000003" height="5.4" fill="#845B97"/>
<text x="78" y="290.4" font-family='"Liberation Serif", serif' font-size="9.2" text-anchor="start" fill="#222" font-weight="normal" textLength="23" lengthAdjust="spacingAndGlyphs" stroke="#222" stroke-width="0.15">SVM</text>
<rect x="53" y="297.25" width="17.700000000000003" height="5.4" fill="#474747"/>
<text x="78" y="303.15" font-family='"Liberation Serif", serif' font-size="9.2" text-anchor="start" fill="#222" font-weight="normal" textLength="22" lengthAdjust="spacingAndGlyphs" stroke="#222" stroke-width="0.15">GPR</text>
<rect x="45.3" y="224.3" width="196.7" height="152.0" fill="none" stroke="#444" stroke-width="0.9"/>
<line x1="45.3" y1="376.00" x2="47.9" y2="376.00" stroke="#444" stroke-width="0.7"/>
<line x1="242" y1="376.00" x2="239.4" y2="376.00" stroke="#444" stroke-width="0.7"/>
<text x="42.3" y="379.2" font-family='"Liberation Serif", serif' font-size="9.2" text-anchor="end" fill="#333" font-weight="normal" textLength="5.25" lengthAdjust="spacingAndGlyphs" stroke="#333" stroke-width="0.15">0</text>
<line x1="45.3" y1="369.73" x2="46.8" y2="369.73" stroke="#444" stroke-width="0.7"/>
<line x1="242" y1="369.73" x2="240.5" y2="369.73" stroke="#444" stroke-width="0.7"/>
<line x1="45.3" y1="363.45" x2="46.8" y2="363.45" stroke="#444" stroke-width="0.7"/>
<line x1="242" y1="363.45" x2="240.5" y2="363.45" stroke="#444" stroke-width="0.7"/>
<line x1="45.3" y1="357.18" x2="46.8" y2="357.18" stroke="#444" stroke-width="0.7"/>
<line x1="242" y1="357.18" x2="240.5" y2="357.18" stroke="#444" stroke-width="0.7"/>
<line x1="45.3" y1="350.90" x2="46.8" y2="350.90" stroke="#444" stroke-width="0.7"/>
<line x1="242" y1="350.90" x2="240.5" y2="350.90" stroke="#444" stroke-width="0.7"/>
<line x1="45.3" y1="344.62" x2="47.9" y2="344.62" stroke="#444" stroke-width="0.7"/>
<line x1="242" y1="344.62" x2="239.4" y2="344.62" stroke="#444" stroke-width="0.7"/>
<text x="42.3" y="347.825" font-family='"Liberation Serif", serif' font-size="9.2" text-anchor="end" fill="#333" font-weight="normal" textLength="5.25" lengthAdjust="spacingAndGlyphs" stroke="#333" stroke-width="0.15">5</text>
<line x1="45.3" y1="338.35" x2="46.8" y2="338.35" stroke="#444" stroke-width="0.7"/>
<line x1="242" y1="338.35" x2="240.5" y2="338.35" stroke="#444" stroke-width="0.7"/>
<line x1="45.3" y1="332.07" x2="46.8" y2="332.07" stroke="#444" stroke-width="0.7"/>
<line x1="242" y1="332.07" x2="240.5" y2="332.07" stroke="#444" stroke-width="0.7"/>
<line x1="45.3" y1="325.80" x2="46.8" y2="325.80" stroke="#444" stroke-width="0.7"/>
<line x1="242" y1="325.80" x2="240.5" y2="325.80" stroke="#444" stroke-width="0.7"/>
<line x1="45.3" y1="319.52" x2="46.8" y2="319.52" stroke="#444" stroke-width="0.7"/>
<line x1="242" y1="319.52" x2="240.5" y2="319.52" stroke="#444" stroke-width="0.7"/>
<line x1="45.3" y1="313.25" x2="47.9" y2="313.25" stroke="#444" stroke-width="0.7"/>
<line x1="242" y1="313.25" x2="239.4" y2="313.25" stroke="#444" stroke-width="0.7"/>
<text x="42.3" y="316.45" font-family='"Liberation Serif", serif' font-size="9.2" text-anchor="end" fill="#333" font-weight="normal" textLength="10.5" lengthAdjust="spacingAndGlyphs" stroke="#333" stroke-width="0.15">10</text>
<line x1="45.3" y1="306.98" x2="46.8" y2="306.98" stroke="#444" stroke-width="0.7"/>
<line x1="242" y1="306.98" x2="240.5" y2="306.98" stroke="#444" stroke-width="0.7"/>
<line x1="45.3" y1="300.70" x2="46.8" y2="300.70" stroke="#444" stroke-width="0.7"/>
<line x1="242" y1="300.70" x2="240.5" y2="300.70" stroke="#444" stroke-width="0.7"/>
<line x1="45.3" y1="294.43" x2="46.8" y2="294.43" stroke="#444" stroke-width="0.7"/>
<line x1="242" y1="294.43" x2="240.5" y2="294.43" stroke="#444" stroke-width="0.7"/>
<line x1="45.3" y1="288.15" x2="46.8" y2="288.15" stroke="#444" stroke-width="0.7"/>
<line x1="242" y1="288.15" x2="240.5" y2="288.15" stroke="#444" stroke-width="0.7"/>
<line x1="45.3" y1="281.88" x2="47.9" y2="281.88" stroke="#444" stroke-width="0.7"/>
<line x1="242" y1="281.88" x2="239.4" y2="281.88" stroke="#444" stroke-width="0.7"/>
<text x="42.3" y="285.075" font-family='"Liberation Serif", serif' font-size="9.2" text-anchor="end" fill="#333" font-weight="normal" textLength="10.5" lengthAdjust="spacingAndGlyphs" stroke="#333" stroke-width="0.15">15</text>
<line x1="45.3" y1="275.60" x2="46.8" y2="275.60" stroke="#444" stroke-width="0.7"/>
<line x1="242" y1="275.60" x2="240.5" y2="275.60" stroke="#444" stroke-width="0.7"/>
<line x1="45.3" y1="269.32" x2="46.8" y2="269.32" stroke="#444" stroke-width="0.7"/>
<line x1="242" y1="269.32" x2="240.5" y2="269.32" stroke="#444" stroke-width="0.7"/>
<line x1="45.3" y1="263.05" x2="46.8" y2="263.05" stroke="#444" stroke-width="0.7"/>
<line x1="242" y1="263.05" x2="240.5" y2="263.05" stroke="#444" stroke-width="0.7"/>
<line x1="45.3" y1="256.77" x2="46.8" y2="256.77" stroke="#444" stroke-width="0.7"/>
<line x1="242" y1="256.77" x2="240.5" y2="256.77" stroke="#444" stroke-width="0.7"/>
<line x1="45.3" y1="250.50" x2="47.9" y2="250.50" stroke="#444" stroke-width="0.7"/>
<line x1="242" y1="250.50" x2="239.4" y2="250.50" stroke="#444" stroke-width="0.7"/>
<text x="42.3" y="253.7" font-family='"Liberation Serif", serif' font-size="9.2" text-anchor="end" fill="#333" font-weight="normal" textLength="10.5" lengthAdjust="spacingAndGlyphs" stroke="#333" stroke-width="0.15">20</text>
<line x1="45.3" y1="244.22" x2="46.8" y2="244.22" stroke="#444" stroke-width="0.7"/>
<line x1="242" y1="244.22" x2="240.5" y2="244.22" stroke="#444" stroke-width="0.7"/>
<line x1="45.3" y1="237.95" x2="46.8" y2="237.95" stroke="#444" stroke-width="0.7"/>
<line x1="242" y1="237.95" x2="240.5" y2="237.95" stroke="#444" stroke-width="0.7"/>
<line x1="45.3" y1="231.67" x2="46.8" y2="231.67" stroke="#444" stroke-width="0.7"/>
<line x1="242" y1="231.67" x2="240.5" y2="231.67" stroke="#444" stroke-width="0.7"/>
<line x1="45.3" y1="225.40" x2="46.8" y2="225.40" stroke="#444" stroke-width="0.7"/>
<line x1="242" y1="225.40" x2="240.5" y2="225.40" stroke="#444" stroke-width="0.7"/>
<line x1="81.9" y1="376.3" x2="81.9" y2="373.7" stroke="#444" stroke-width="0.7"/>
<line x1="81.9" y1="224.3" x2="81.9" y2="226.9" stroke="#444" stroke-width="0.7"/>
<line x1="143.5" y1="376.3" x2="143.5" y2="373.7" stroke="#444" stroke-width="0.7"/>
<line x1="143.5" y1="224.3" x2="143.5" y2="226.9" stroke="#444" stroke-width="0.7"/>
<line x1="205.5" y1="376.3" x2="205.5" y2="373.7" stroke="#444" stroke-width="0.7"/>
<line x1="205.5" y1="224.3" x2="205.5" y2="226.9" stroke="#444" stroke-width="0.7"/>
<line x1="57.26" y1="224.3" x2="57.26" y2="225.8" stroke="#444" stroke-width="0.7"/>
<line x1="57.26" y1="376.3" x2="57.26" y2="374.8" stroke="#444" stroke-width="0.7"/>
<line x1="69.58" y1="224.3" x2="69.58" y2="225.8" stroke="#444" stroke-width="0.7"/>
<line x1="69.58" y1="376.3" x2="69.58" y2="374.8" stroke="#444" stroke-width="0.7"/>
<line x1="94.22" y1="224.3" x2="94.22" y2="225.8" stroke="#444" stroke-width="0.7"/>
<line x1="94.22" y1="376.3" x2="94.22" y2="374.8" stroke="#444" stroke-width="0.7"/>
<line x1="106.54" y1="224.3" x2="106.54" y2="225.8" stroke="#444" stroke-width="0.7"/>
<line x1="106.54" y1="376.3" x2="106.54" y2="374.8" stroke="#444" stroke-width="0.7"/>
<line x1="118.86" y1="224.3" x2="118.86" y2="225.8" stroke="#444" stroke-width="0.7"/>
<line x1="118.86" y1="376.3" x2="118.86" y2="374.8" stroke="#444" stroke-width="0.7"/>
<line x1="131.18" y1="224.3" x2="131.18" y2="225.8" stroke="#444" stroke-width="0.7"/>
<line x1="131.18" y1="376.3" x2="131.18" y2="374.8" stroke="#444" stroke-width="0.7"/>
<line x1="155.82" y1="224.3" x2="155.82" y2="225.8" stroke="#444" stroke-width="0.7"/>
<line x1="155.82" y1="376.3" x2="155.82" y2="374.8" stroke="#444" stroke-width="0.7"/>
<line x1="168.14" y1="224.3" x2="168.14" y2="225.8" stroke="#444" stroke-width="0.7"/>
<line x1="168.14" y1="376.3" x2="168.14" y2="374.8" stroke="#444" stroke-width="0.7"/>
<line x1="180.46" y1="224.3" x2="180.46" y2="225.8" stroke="#444" stroke-width="0.7"/>
<line x1="180.46" y1="376.3" x2="180.46" y2="374.8" stroke="#444" stroke-width="0.7"/>
<line x1="192.78" y1="224.3" x2="192.78" y2="225.8" stroke="#444" stroke-width="0.7"/>
<line x1="192.78" y1="376.3" x2="192.78" y2="374.8" stroke="#444" stroke-width="0.7"/>
<line x1="217.42" y1="224.3" x2="217.42" y2="225.8" stroke="#444" stroke-width="0.7"/>
<line x1="217.42" y1="376.3" x2="217.42" y2="374.8" stroke="#444" stroke-width="0.7"/>
<line x1="229.74" y1="224.3" x2="229.74" y2="225.8" stroke="#444" stroke-width="0.7"/>
<line x1="229.74" y1="376.3" x2="229.74" y2="374.8" stroke="#444" stroke-width="0.7"/>
<text x="81.9" y="386" font-family='"Liberation Serif", serif' font-size="9.6" text-anchor="middle" fill="#333" font-weight="normal" textLength="52" lengthAdjust="spacingAndGlyphs" stroke="#333" stroke-width="0.15">Segments A</text>
<text x="143.5" y="386" font-family='"Liberation Serif", serif' font-size="9.6" text-anchor="middle" fill="#333" font-weight="normal" textLength="52" lengthAdjust="spacingAndGlyphs" stroke="#333" stroke-width="0.15">Segments B</text>
<text x="205.5" y="386" font-family='"Liberation Serif", serif' font-size="9.6" text-anchor="middle" fill="#333" font-weight="normal" textLength="52" lengthAdjust="spacingAndGlyphs" stroke="#333" stroke-width="0.15">Segments C</text>
<text x="0" y="0" transform="translate(25.8,300.6) rotate(-90)" font-family='"Liberation Serif", serif' font-size="9.3" text-anchor="middle" fill="#333" stroke="#333" stroke-width="0.12" textLength="45" lengthAdjust="spacingAndGlyphs">RMSE (%)</text>
<rect x="339.60" y="365.02" width="9.00" height="10.48" fill="#0C5DA5"/>
<rect x="348.60" y="357.99" width="9.00" height="17.51" fill="#00B945"/>
<rect x="357.60" y="354.98" width="9.00" height="20.52" fill="#FF9500"/>
<rect x="366.60" y="348.02" width="9.00" height="27.48" fill="#FF2C00"/>
<rect x="375.60" y="345.01" width="9.00" height="30.49" fill="#845B97"/>
<rect x="384.60" y="357.99" width="9.00" height="17.51" fill="#474747"/>
<rect x="400.00" y="360.00" width="9.00" height="15.50" fill="#0C5DA5"/>
<rect x="409.00" y="332.45" width="9.00" height="43.05" fill="#00B945"/>
<rect x="418.00" y="345.58" width="9.00" height="29.92" fill="#FF9500"/>
<rect x="427.00" y="311.43" width="9.00" height="64.07" fill="#FF2C00"/>
<rect x="436.00" y="314.51" width="9.00" height="60.99" fill="#845B97"/>
<rect x="445.00" y="338.98" width="9.00" height="36.52" fill="#474747"/>
<rect x="460.40" y="312.00" width="9.00" height="63.50" fill="#0C5DA5"/>
<rect x="469.40" y="292.99" width="9.00" height="82.51" fill="#00B945"/>
<rect x="478.40" y="285.10" width="9.00" height="90.40" fill="#FF9500"/>
<rect x="487.40" y="258.55" width="9.00" height="116.95" fill="#FF2C00"/>
<rect x="496.40" y="258.55" width="9.00" height="116.95" fill="#845B97"/>
<rect x="505.40" y="234.37" width="9.00" height="141.13" fill="#474747"/>
<line x1="344.10" y1="363.59" x2="344.10" y2="366.46" stroke="#222" stroke-width="1"/>
<line x1="353.10" y1="356.92" x2="353.10" y2="359.07" stroke="#222" stroke-width="1"/>
<line x1="362.10" y1="345.65" x2="362.10" y2="364.31" stroke="#222" stroke-width="1"/>
<line x1="371.10" y1="344.79" x2="371.10" y2="351.25" stroke="#222" stroke-width="1"/>
<line x1="404.50" y1="359.14" x2="404.50" y2="360.86" stroke="#222" stroke-width="1"/>
<line x1="413.50" y1="331.01" x2="413.50" y2="333.88" stroke="#222" stroke-width="1"/>
<line x1="422.50" y1="341.99" x2="422.50" y2="349.17" stroke="#222" stroke-width="1"/>
<line x1="431.50" y1="302.82" x2="431.50" y2="320.04" stroke="#222" stroke-width="1"/>
<line x1="464.90" y1="306.98" x2="464.90" y2="317.02" stroke="#222" stroke-width="1"/>
<line x1="473.90" y1="287.61" x2="473.90" y2="298.37" stroke="#222" stroke-width="1"/>
<line x1="482.90" y1="280.43" x2="482.90" y2="289.76" stroke="#222" stroke-width="1"/>
<line x1="491.90" y1="252.09" x2="491.90" y2="265.00" stroke="#222" stroke-width="1"/>
<line x1="330.5" y1="339.62" x2="523" y2="339.62" stroke="#000" stroke-opacity="0.16" stroke-width="0.7"/>
<line x1="330.5" y1="303.75" x2="523" y2="303.75" stroke="#000" stroke-opacity="0.16" stroke-width="0.7"/>
<line x1="330.5" y1="267.88" x2="523" y2="267.88" stroke="#000" stroke-opacity="0.16" stroke-width="0.7"/>
<line x1="330.5" y1="232.00" x2="523" y2="232.00" stroke="#000" stroke-opacity="0.16" stroke-width="0.7"/>
<line x1="366.6" y1="227.2" x2="366.6" y2="375.5" stroke="#000" stroke-opacity="0.16" stroke-width="0.7"/>
<line x1="427" y1="227.2" x2="427" y2="375.5" stroke="#000" stroke-opacity="0.16" stroke-width="0.7"/>
<line x1="487.4" y1="227.2" x2="487.4" y2="375.5" stroke="#000" stroke-opacity="0.16" stroke-width="0.7"/>
<rect x="334" y="231.8" width="68.39999999999998" height="77.39999999999998" rx="1.5" fill="#fff" fill-opacity="0.85" stroke="#d0d0d0" stroke-width="0.8"/>
<rect x="338" y="235.30" width="17" height="5.4" fill="#0C5DA5"/>
<text x="362" y="241.20000000000002" font-family='"Liberation Serif", serif' font-size="9.2" text-anchor="start" fill="#222" font-weight="normal" textLength="36" lengthAdjust="spacingAndGlyphs" stroke="#222" stroke-width="0.15">1D CNN</text>
<rect x="338" y="247.85" width="17" height="5.4" fill="#00B945"/>
<text x="362" y="253.75000000000003" font-family='"Liberation Serif", serif' font-size="9.2" text-anchor="start" fill="#222" font-weight="normal" textLength="25.6" lengthAdjust="spacingAndGlyphs" stroke="#222" stroke-width="0.15">LSTM</text>
<rect x="338" y="260.40" width="17" height="5.4" fill="#FF9500"/>
<text x="362" y="266.3" font-family='"Liberation Serif", serif' font-size="9.2" text-anchor="start" fill="#222" font-weight="normal" textLength="36" lengthAdjust="spacingAndGlyphs" stroke="#222" stroke-width="0.15">2D CNN</text>
<rect x="338" y="272.95" width="17" height="5.4" fill="#FF2C00"/>
<text x="362" y="278.85" font-family='"Liberation Serif", serif' font-size="9.2" text-anchor="start" fill="#222" font-weight="normal" textLength="20" lengthAdjust="spacingAndGlyphs" stroke="#222" stroke-width="0.15">FNN</text>
<rect x="338" y="285.50" width="17" height="5.4" fill="#845B97"/>
<text x="362" y="291.4" font-family='"Liberation Serif", serif' font-size="9.2" text-anchor="start" fill="#222" font-weight="normal" textLength="23" lengthAdjust="spacingAndGlyphs" stroke="#222" stroke-width="0.15">SVM</text>
<rect x="338" y="298.05" width="17" height="5.4" fill="#474747"/>
<text x="362" y="303.95" font-family='"Liberation Serif", serif' font-size="9.2" text-anchor="start" fill="#222" font-weight="normal" textLength="22" lengthAdjust="spacingAndGlyphs" stroke="#222" stroke-width="0.15">GPR</text>
<rect x="330.5" y="227.2" width="192.5" height="148.3" fill="none" stroke="#444" stroke-width="0.9"/>
<line x1="330.5" y1="375.50" x2="333.1" y2="375.50" stroke="#444" stroke-width="0.7"/>
<line x1="523" y1="375.50" x2="520.4" y2="375.50" stroke="#444" stroke-width="0.7"/>
<text x="327.5" y="378.7" font-family='"Liberation Serif", serif' font-size="9.2" text-anchor="end" fill="#333" font-weight="normal" textLength="5.25" lengthAdjust="spacingAndGlyphs" stroke="#333" stroke-width="0.15">0</text>
<line x1="330.5" y1="368.32" x2="332.0" y2="368.32" stroke="#444" stroke-width="0.7"/>
<line x1="523" y1="368.32" x2="521.5" y2="368.32" stroke="#444" stroke-width="0.7"/>
<line x1="330.5" y1="361.15" x2="332.0" y2="361.15" stroke="#444" stroke-width="0.7"/>
<line x1="523" y1="361.15" x2="521.5" y2="361.15" stroke="#444" stroke-width="0.7"/>
<line x1="330.5" y1="353.98" x2="332.0" y2="353.98" stroke="#444" stroke-width="0.7"/>
<line x1="523" y1="353.98" x2="521.5" y2="353.98" stroke="#444" stroke-width="0.7"/>
<line x1="330.5" y1="346.80" x2="332.0" y2="346.80" stroke="#444" stroke-width="0.7"/>
<line x1="523" y1="346.80" x2="521.5" y2="346.80" stroke="#444" stroke-width="0.7"/>
<line x1="330.5" y1="339.62" x2="333.1" y2="339.62" stroke="#444" stroke-width="0.7"/>
<line x1="523" y1="339.62" x2="520.4" y2="339.62" stroke="#444" stroke-width="0.7"/>
<text x="327.5" y="342.825" font-family='"Liberation Serif", serif' font-size="9.2" text-anchor="end" fill="#333" font-weight="normal" textLength="5.25" lengthAdjust="spacingAndGlyphs" stroke="#333" stroke-width="0.15">5</text>
<line x1="330.5" y1="332.45" x2="332.0" y2="332.45" stroke="#444" stroke-width="0.7"/>
<line x1="523" y1="332.45" x2="521.5" y2="332.45" stroke="#444" stroke-width="0.7"/>
<line x1="330.5" y1="325.27" x2="332.0" y2="325.27" stroke="#444" stroke-width="0.7"/>
<line x1="523" y1="325.27" x2="521.5" y2="325.27" stroke="#444" stroke-width="0.7"/>
<line x1="330.5" y1="318.10" x2="332.0" y2="318.10" stroke="#444" stroke-width="0.7"/>
<line x1="523" y1="318.10" x2="521.5" y2="318.10" stroke="#444" stroke-width="0.7"/>
<line x1="330.5" y1="310.93" x2="332.0" y2="310.93" stroke="#444" stroke-width="0.7"/>
<line x1="523" y1="310.93" x2="521.5" y2="310.93" stroke="#444" stroke-width="0.7"/>
<line x1="330.5" y1="303.75" x2="333.1" y2="303.75" stroke="#444" stroke-width="0.7"/>
<line x1="523" y1="303.75" x2="520.4" y2="303.75" stroke="#444" stroke-width="0.7"/>
<text x="327.5" y="306.95" font-family='"Liberation Serif", serif' font-size="9.2" text-anchor="end" fill="#333" font-weight="normal" textLength="10.5" lengthAdjust="spacingAndGlyphs" stroke="#333" stroke-width="0.15">10</text>
<line x1="330.5" y1="296.57" x2="332.0" y2="296.57" stroke="#444" stroke-width="0.7"/>
<line x1="523" y1="296.57" x2="521.5" y2="296.57" stroke="#444" stroke-width="0.7"/>
<line x1="330.5" y1="289.40" x2="332.0" y2="289.40" stroke="#444" stroke-width="0.7"/>
<line x1="523" y1="289.40" x2="521.5" y2="289.40" stroke="#444" stroke-width="0.7"/>
<line x1="330.5" y1="282.23" x2="332.0" y2="282.23" stroke="#444" stroke-width="0.7"/>
<line x1="523" y1="282.23" x2="521.5" y2="282.23" stroke="#444" stroke-width="0.7"/>
<line x1="330.5" y1="275.05" x2="332.0" y2="275.05" stroke="#444" stroke-width="0.7"/>
<line x1="523" y1="275.05" x2="521.5" y2="275.05" stroke="#444" stroke-width="0.7"/>
<line x1="330.5" y1="267.88" x2="333.1" y2="267.88" stroke="#444" stroke-width="0.7"/>
<line x1="523" y1="267.88" x2="520.4" y2="267.88" stroke="#444" stroke-width="0.7"/>
<text x="327.5" y="271.075" font-family='"Liberation Serif", serif' font-size="9.2" text-anchor="end" fill="#333" font-weight="normal" textLength="10.5" lengthAdjust="spacingAndGlyphs" stroke="#333" stroke-width="0.15">15</text>
<line x1="330.5" y1="260.70" x2="332.0" y2="260.70" stroke="#444" stroke-width="0.7"/>
<line x1="523" y1="260.70" x2="521.5" y2="260.70" stroke="#444" stroke-width="0.7"/>
<line x1="330.5" y1="253.53" x2="332.0" y2="253.53" stroke="#444" stroke-width="0.7"/>
<line x1="523" y1="253.53" x2="521.5" y2="253.53" stroke="#444" stroke-width="0.7"/>
<line x1="330.5" y1="246.35" x2="332.0" y2="246.35" stroke="#444" stroke-width="0.7"/>
<line x1="523" y1="246.35" x2="521.5" y2="246.35" stroke="#444" stroke-width="0.7"/>
<line x1="330.5" y1="239.18" x2="332.0" y2="239.18" stroke="#444" stroke-width="0.7"/>
<line x1="523" y1="239.18" x2="521.5" y2="239.18" stroke="#444" stroke-width="0.7"/>
<line x1="330.5" y1="232.00" x2="333.1" y2="232.00" stroke="#444" stroke-width="0.7"/>
<line x1="523" y1="232.00" x2="520.4" y2="232.00" stroke="#444" stroke-width="0.7"/>
<text x="327.5" y="235.2" font-family='"Liberation Serif", serif' font-size="9.2" text-anchor="end" fill="#333" font-weight="normal" textLength="10.5" lengthAdjust="spacingAndGlyphs" stroke="#333" stroke-width="0.15">20</text>
<line x1="366.6" y1="375.5" x2="366.6" y2="372.9" stroke="#444" stroke-width="0.7"/>
<line x1="366.6" y1="227.2" x2="366.6" y2="229.79999999999998" stroke="#444" stroke-width="0.7"/>
<line x1="427" y1="375.5" x2="427" y2="372.9" stroke="#444" stroke-width="0.7"/>
<line x1="427" y1="227.2" x2="427" y2="229.79999999999998" stroke="#444" stroke-width="0.7"/>
<line x1="487.4" y1="375.5" x2="487.4" y2="372.9" stroke="#444" stroke-width="0.7"/>
<line x1="487.4" y1="227.2" x2="487.4" y2="229.79999999999998" stroke="#444" stroke-width="0.7"/>
<line x1="342.44" y1="227.2" x2="342.44" y2="228.7" stroke="#444" stroke-width="0.7"/>
<line x1="342.44" y1="375.5" x2="342.44" y2="374.0" stroke="#444" stroke-width="0.7"/>
<line x1="354.52" y1="227.2" x2="354.52" y2="228.7" stroke="#444" stroke-width="0.7"/>
<line x1="354.52" y1="375.5" x2="354.52" y2="374.0" stroke="#444" stroke-width="0.7"/>
<line x1="378.68" y1="227.2" x2="378.68" y2="228.7" stroke="#444" stroke-width="0.7"/>
<line x1="378.68" y1="375.5" x2="378.68" y2="374.0" stroke="#444" stroke-width="0.7"/>
<line x1="390.76" y1="227.2" x2="390.76" y2="228.7" stroke="#444" stroke-width="0.7"/>
<line x1="390.76" y1="375.5" x2="390.76" y2="374.0" stroke="#444" stroke-width="0.7"/>
<line x1="402.84" y1="227.2" x2="402.84" y2="228.7" stroke="#444" stroke-width="0.7"/>
<line x1="402.84" y1="375.5" x2="402.84" y2="374.0" stroke="#444" stroke-width="0.7"/>
<line x1="414.92" y1="227.2" x2="414.92" y2="228.7" stroke="#444" stroke-width="0.7"/>
<line x1="414.92" y1="375.5" x2="414.92" y2="374.0" stroke="#444" stroke-width="0.7"/>
<line x1="439.08" y1="227.2" x2="439.08" y2="228.7" stroke="#444" stroke-width="0.7"/>
<line x1="439.08" y1="375.5" x2="439.08" y2="374.0" stroke="#444" stroke-width="0.7"/>
<line x1="451.16" y1="227.2" x2="451.16" y2="228.7" stroke="#444" stroke-width="0.7"/>
<line x1="451.16" y1="375.5" x2="451.16" y2="374.0" stroke="#444" stroke-width="0.7"/>
<line x1="463.24" y1="227.2" x2="463.24" y2="228.7" stroke="#444" stroke-width="0.7"/>
<line x1="463.24" y1="375.5" x2="463.24" y2="374.0" stroke="#444" stroke-width="0.7"/>
<line x1="475.32" y1="227.2" x2="475.32" y2="228.7" stroke="#444" stroke-width="0.7"/>
<line x1="475.32" y1="375.5" x2="475.32" y2="374.0" stroke="#444" stroke-width="0.7"/>
<line x1="499.48" y1="227.2" x2="499.48" y2="228.7" stroke="#444" stroke-width="0.7"/>
<line x1="499.48" y1="375.5" x2="499.48" y2="374.0" stroke="#444" stroke-width="0.7"/>
<line x1="511.56" y1="227.2" x2="511.56" y2="228.7" stroke="#444" stroke-width="0.7"/>
<line x1="511.56" y1="375.5" x2="511.56" y2="374.0" stroke="#444" stroke-width="0.7"/>
<text x="366.6" y="384.7" font-family='"Liberation Serif", serif' font-size="9.6" text-anchor="middle" fill="#333" font-weight="normal" textLength="52" lengthAdjust="spacingAndGlyphs" stroke="#333" stroke-width="0.15">Segments A</text>
<text x="427" y="384.7" font-family='"Liberation Serif", serif' font-size="9.6" text-anchor="middle" fill="#333" font-weight="normal" textLength="52" lengthAdjust="spacingAndGlyphs" stroke="#333" stroke-width="0.15">Segments B</text>
<text x="487.4" y="384.7" font-family='"Liberation Serif", serif' font-size="9.6" text-anchor="middle" fill="#333" font-weight="normal" textLength="52" lengthAdjust="spacingAndGlyphs" stroke="#333" stroke-width="0.15">Segments C</text>
<text x="0" y="0" transform="translate(311.4,300.6) rotate(-90)" font-family='"Liberation Serif", serif' font-size="9.3" text-anchor="middle" fill="#333" stroke="#333" stroke-width="0.12" textLength="45" lengthAdjust="spacingAndGlyphs">RMSE (%)</text>
<text x="130.6" y="219.3" font-family='"Liberation Serif", serif' font-size="12" text-anchor="middle" fill="#111">(<tspan font-weight="bold">a</tspan>)</text>
<text x="414.2" y="219.5" font-family='"Liberation Serif", serif' font-size="12" text-anchor="middle" fill="#111">(<tspan font-weight="bold">b</tspan>)</text>
<text x="130.8" y="403.5" font-family='"Liberation Serif", serif' font-size="12" text-anchor="middle" fill="#111">(<tspan font-weight="bold">c</tspan>)</text>
<text x="414.2" y="403.3" font-family='"Liberation Serif", serif' font-size="12" text-anchor="middle" fill="#111">(<tspan font-weight="bold">d</tspan>)</text>
</svg>
</body></html>
